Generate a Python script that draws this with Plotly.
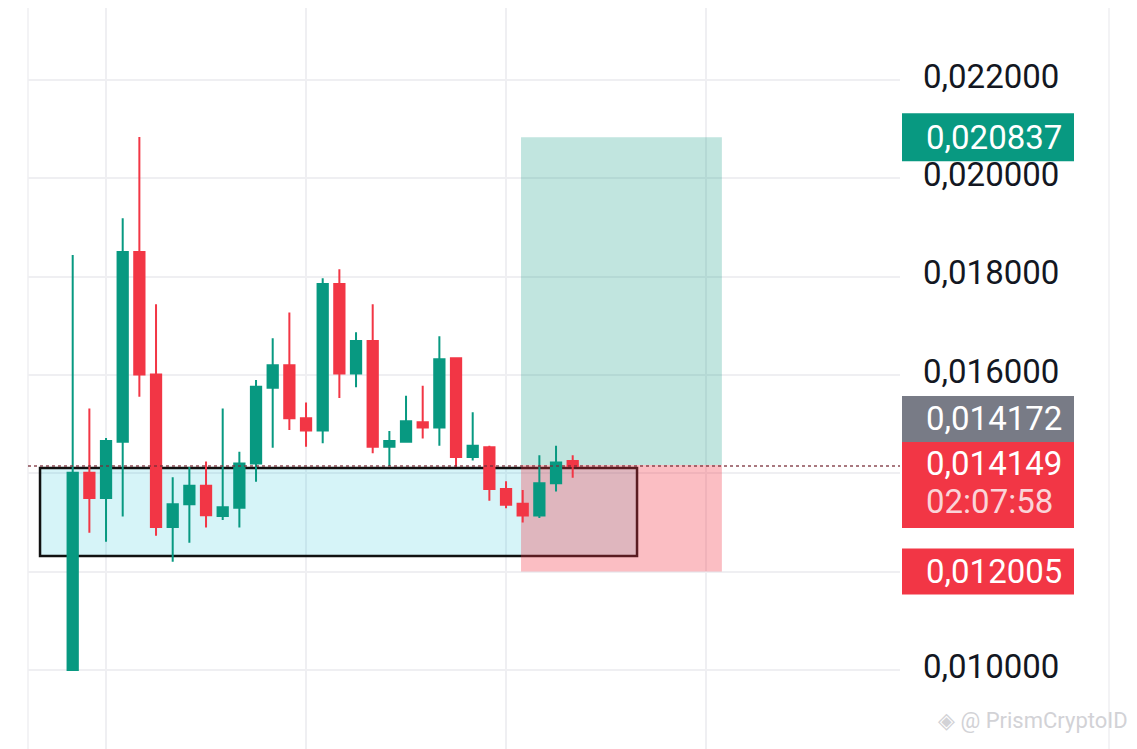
import plotly.graph_objects as go

# candle data
opens = [0.01000, 0.01401, 0.01350, 0.01464, 0.01850, 0.01601, 0.01291, 0.01337, 0.01375, 0.01313,
         0.01330, 0.01420, 0.01574, 0.01620, 0.01512, 0.01487, 0.01785, 0.01603, 0.01669, 0.01454,
         0.01464, 0.01504, 0.01493, 0.01634, 0.01433, 0.01453, 0.01368, 0.01338, 0.01314, 0.01380,
         0.01425]
highs = [0.01844, 0.01532, 0.01472, 0.01919, 0.02084, 0.01744, 0.01392, 0.01413, 0.01424, 0.01532,
         0.01444, 0.01590, 0.01675, 0.01727, 0.01544, 0.01797, 0.01815, 0.01687, 0.01744, 0.01486,
         0.01558, 0.01578, 0.01679, 0.01636, 0.01524, 0.01456, 0.01384, 0.01366, 0.01437, 0.01456,
         0.01437]
lows = [0.01000, 0.01279, 0.01261, 0.01312, 0.01556, 0.01273, 0.01220, 0.01259, 0.01290, 0.01305,
        0.01290, 0.01383, 0.01452, 0.01488, 0.01454, 0.01461, 0.01553, 0.01575, 0.01441, 0.01415,
        0.01463, 0.01471, 0.01456, 0.01413, 0.01426, 0.01344, 0.01329, 0.01300, 0.01309, 0.01363,
        0.01391]
closes = [0.01401, 0.01350, 0.01466, 0.01850, 0.01601, 0.01291, 0.01337, 0.01375, 0.01315, 0.01331,
          0.01420, 0.01576, 0.01620, 0.01512, 0.01487, 0.01785, 0.01603, 0.01669, 0.01454, 0.01466,
          0.01506, 0.01493, 0.01632, 0.01433, 0.01456, 0.01368, 0.01336, 0.01314, 0.01380, 0.01422,
          0.014149]
bars = list(range(len(opens)))

price_ticks = [0.010, 0.012, 0.014, 0.016, 0.018, 0.020, 0.022]
price_labels = ["0,010000", "", "", "0,016000", "0,018000", "0,020000", "0,022000"]
time_grid = [2, 14, 26, 38]

# drawings
zone_start, zone_end = -1.96, 33.86
zone_low, zone_high = 0.01232, 0.01411
pos_start, pos_end = 26.9, 38.95
entry_price = 0.014172
take_profit = 0.020837
stop_loss = 0.012005
last_price = 0.014149
countdown = "02:07:58"

GREEN = "#089981"
RED = "#F23645"
GREY = "#787B86"

# the page puts the plot 8px in from the corner, so size and place for that
OFF = 8
W, H = 1137 - OFF, 749 - OFF


def px(x):
    return (x - OFF) / W


def py(y):
    return 1 - (y - OFF) / H


X_LEFT, X_RIGHT = 28, 900

fig = go.Figure()
fig.add_trace(go.Candlestick(
    x=bars, open=opens, high=highs, low=lows, close=closes,
    increasing=dict(line=dict(color=GREEN, width=2), fillcolor=GREEN),
    decreasing=dict(line=dict(color=RED, width=2), fillcolor=RED),
    whiskerwidth=0, hoverinfo="skip", showlegend=False,
))

shapes = [
    # support zone
    dict(type="rect", xref="x", yref="y", x0=zone_start, x1=zone_end, y0=zone_low, y1=zone_high,
         fillcolor="rgba(0,188,212,0.16)", line=dict(color="#111111", width=2.5), layer="between"),
    # long position tool
    dict(type="rect", xref="x", yref="y", x0=pos_start, x1=pos_end, y0=entry_price, y1=take_profit,
         fillcolor="rgba(8,153,129,0.25)", line=dict(width=0), layer="between"),
    dict(type="rect", xref="x", yref="y", x0=pos_start, x1=pos_end, y0=stop_loss, y1=entry_price,
         fillcolor="rgba(242,54,69,0.32)", line=dict(width=0), layer="between"),
    # last price line
    dict(type="line", xref="paper", yref="y", x0=px(X_LEFT), x1=px(X_RIGHT), y0=last_price, y1=last_price,
         line=dict(color="rgba(120,45,55,0.85)", width=1.5, dash="dot")),
    # chart edges
    dict(type="line", xref="paper", yref="paper", x0=px(X_LEFT), x1=px(X_LEFT), y0=0, y1=1,
         line=dict(color="#EFEFF2", width=1.5), layer="below"),
    dict(type="line", xref="paper", yref="paper", x0=px(1109), x1=px(1109), y0=0, y1=1,
         line=dict(color="#EFEFF2", width=1.5), layer="below"),
]

# price axis label boxes: price, colour, top and bottom in px from the price
axis_boxes = [
    (take_profit, GREEN, 24, -24),
    (entry_price, GREY, 69, 23),
    (last_price, RED, 24, -62),
    (stop_loss, RED, 23, -23),
]
for price, colour, top, bottom in axis_boxes:
    shapes.append(dict(type="rect", xref="paper", yref="y", ysizemode="pixel", yanchor=price,
                       x0=px(902), x1=px(1074), y0=bottom, y1=top,
                       fillcolor=colour, line=dict(width=0)))
fig.update_layout(shapes=shapes)

annotations = [
    dict(text="0,020837", y=take_profit, yshift=0, color="white"),
    dict(text="0,014172", y=entry_price, yshift=46, color="white"),
    dict(text="0,014149", y=last_price, yshift=3, color="white"),
    dict(text=countdown, y=last_price, yshift=-35, color="#FAD4D8"),
    dict(text="0,012005", y=stop_loss, yshift=0, color="white"),
]
for a in annotations:
    fig.add_annotation(
        x=px(924), xref="paper", xanchor="left", y=a["y"], yref="y", yanchor="middle",
        yshift=a["yshift"], text=a["text"], showarrow=False,
        font=dict(family="Roboto", size=33, color=a["color"]),
    )

fig.add_annotation(
    x=px(1130), xref="paper", xanchor="right", y=py(720), yref="paper", yanchor="middle",
    text="◈ @ PrismCryptoID", showarrow=False,
    font=dict(family="Roboto", size=22, color="#D2D2D6"),
)

# pixel scale of the original chart: 0.010 at y=670 and 0.022 at y=80
px_per_unit = (670 - 80) / 0.012
y_top = 0.022 + (80 - OFF) / px_per_unit
y_bottom = 0.010 - (749 - 670) / px_per_unit
bar_px = 200 / 12
x_first = 72.7
x_min = (X_LEFT - x_first) / bar_px
x_max = (X_RIGHT - x_first) / bar_px

fig.update_layout(
    width=W, height=H,
    margin=dict(l=0, r=0, t=0, b=0),
    paper_bgcolor="white", plot_bgcolor="white",
    boxgap=0.12,
    xaxis=dict(
        domain=[px(X_LEFT), px(X_RIGHT)], range=[x_min, x_max],
        tickvals=time_grid, showticklabels=False, ticks="",
        showgrid=True, gridcolor="#EFEFF2", gridwidth=1.5,
        zeroline=False, showline=False, rangeslider=dict(visible=False), fixedrange=True,
    ),
    yaxis=dict(
        domain=[0, 1], range=[y_bottom, y_top], side="right",
        tickvals=price_ticks, ticktext=price_labels, ticks="",
        ticklabelstandoff=22, ticklabelshift=-4,
        tickfont=dict(family="Roboto", size=33, color="#131722"),
        showgrid=True, gridcolor="#EFEFF2", gridwidth=1.5,
        zeroline=False, showline=False, fixedrange=True,
    ),
    font=dict(family="Roboto"),
)

fig.write_html("out.html")
